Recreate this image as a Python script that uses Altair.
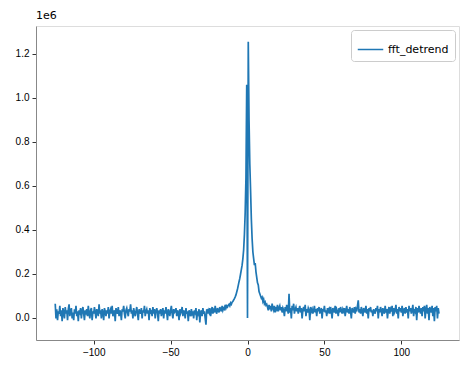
import numpy as np
import pandas as pd
import altair as alt

# FFT magnitude (in thousands), frequency step 0.5 from -125 to 124.5
left_noise = [
    65, -2, 40, -10, 30, 20, 55, 8, 35, -15, 45, 25, -2, 50, 20, 35, -10, 40, 62, 8,
    30, 45, -2, 25, -10, 40, 20, 55, 8, 30, -15, 35, 25, 45, -2, 30, 50, 20, -10, 35,
    25, 40, 8, 55, 20, -2, 35, 45, -10, 30, 20, 50, 25, -2, 40, 30, 8, 62, 20, 35,
    -2, 40, 25, -10, 45, 30, 8, 35, 20, 50, -2, 30, 40, 20, 55, 8, 25, 35, -15, 45,
    30, 20, 50, 8, 35, 25, -10, 40, 30, 55, 20, -2, 35, 45, 25, 8, 40, 30, 62, 20,
    35, -2, 45, 25, 8, 30, 50, 20, -10, 40, 30, 20, 45, -2, 35, 25, 55, 8, 30, 40,
    20, 35, -10, 45, 25, 30, 8, 50, 20, 40, -2, 30, 45, 25, -15, 35, 20, 40, 8, 30,
    45, -2, 35, 20, 50, 25, -10, 40, 30, 8, 35, 55, 20, -2, 40, 25, 30, 45, 8, 35,
    25, -10, 40, 20, 30, 50, 8, 35, 25, -2, 45, 20, 30, -15, 35, 25, 8, 40, 20, 30,
    -2, 35, 25, 45, -10, 30, 20, 40, -20, 25, 35, 8, 45, 20, 30, -2, -30, 40, 20, 35,
    25, 45, 8, 30, 50, 20, 35, 25, 55, 30, 20, 45, 35, 25, 50, 40, 30, 55, 35, 45,
    40, 60, 45, 55, 50,
]
left_peak = [
    58, 62, 55, 68, 62, 72, 75, 82, 88, 96, 105, 118, 132, 148, 165, 180, 200,
    220, 240, 270, 310, 380, 480, 640, 1060,
]
center = [0]
right_peak = [
    1255, 900, 700, 580, 450, 360, 300, 270, 240, 250, 210, 185, 160, 150, 120,
    110, 100, 90, 95, 75, 85, 65, 72, 58, 62,
]
right_noise = [
    50, 35, 60, 40, 55, 30, 65, 45, 35, 55, 25, 50, 40, 60, 30, 45, 55, 35, 50, 25,
    45, 35, 8, 50, 30, 60, 40, 20, 110, 25, 45, -2, 55, 35, 65, 20, 40, 50, 30, 45,
    20, 40, 55, 25, 45, -2, 35, 50, 30, 60, 8, 40, 25, 45, 35, -10, 50, 30, 40, 20,
    35, 55, 25, 40, 8, 45, 30, 50, 20, 35, 45, -2, 40, 30, 55, 25, 35, 8, 45, 30,
    40, 20, 50, 30, -2, 45, 35, 25, 55, 20, 40, 30, 8, 45, 25, 50, 35, 20, 40, 30,
    45, 8, 35, 55, 25, 40, 20, 50, 30, -2, 45, 35, 25, 50, 20, 40, 30, 55, 80, 25,
    40, 20, 50, 30, 8, 45, 35, 25, 55, 20, 40, -2, 45, 30, 50, 25, 35, 8, 40, 30,
    20, 45, 30, 55, -2, 40, 25, 50, 35, 8, 45, 30, 20, 55, 25, 40, -2, 35, 50, 20,
    40, 30, 55, 8, 45, 25, 35, 60, 20, 40, -2, 50, 30, 45, 25, 55, 8, 35, 45, 20,
    50, 25, 40, -2, 55, 30, 45, 20, 35, 60, 8, 40, 30, 50, -10, 45, 25, 55, 35, 20,
    45, 8, 50, 30, 55, -2, 40, 60, 20, 45, -10, 50, 35, 25, 55, 8, 45, -15, 50, 30,
    55, -2, 45, 20,
]

values = left_noise + left_peak + center + right_peak + right_noise
freqs = -125 + 0.5 * np.arange(len(values))

x_ticks = [-100, -50, 0, 50, 100]
y_ticks = [0.0, 0.2, 0.4, 0.6, 0.8, 1.0, 1.2]

df = pd.DataFrame({
    "freq": freqs,
    "val": np.array(values) / 1000.0,
    "series": "fft_detrend",
})

FONT = "DejaVu Sans"

line = alt.Chart(df).mark_line(strokeWidth=1.7).encode(
    x=alt.X("freq:Q", scale=alt.Scale(domain=[-137.5, 137.5], nice=False, zero=False),
            axis=alt.Axis(values=x_ticks, title=None, grid=False, format="d",
                          tickSize=4, tickColor="#333333", labelPadding=3)),
    y=alt.Y("val:Q", scale=alt.Scale(domain=[-0.1, 1.327], nice=False, zero=False),
            axis=alt.Axis(values=y_ticks, title=None, grid=False, format=".1f",
                          tickSize=4, tickColor="#333333", labelPadding=3)),
    color=alt.Color("series:N", scale=alt.Scale(range=["#1f77b4"]),
                    legend=alt.Legend(title=None, orient="top-right", symbolType="stroke",
                                      symbolStrokeWidth=1.5, symbolSize=650,
                                      strokeColor="#cccccc", fillColor="white",
                                      cornerRadius=3, padding=6, offset=4,
                                      labelFontSize=11, labelFont=FONT,
                                      labelColor="black")),
)

offset_text = alt.Chart(pd.DataFrame({"t": ["1e6"]})).mark_text(
    align="left", baseline="bottom", font=FONT, fontSize=11, color="black"
).encode(x=alt.value(0), y=alt.value(-5), text="t:N")

chart = alt.layer(line, offset_text).properties(
    width=423, height=314,
    autosize=alt.AutoSizeParams(type="none"),
    padding={"left": 36, "top": 26, "right": 15, "bottom": 31},
).configure_view(
    stroke="#333333", strokeWidth=1.2
).configure_axis(
    domain=False, labelFont=FONT, labelFontSize=11, labelColor="black"
).configure(background="white")

chart.save("out.html", embed_options={"renderer": "svg", "actions": False})
